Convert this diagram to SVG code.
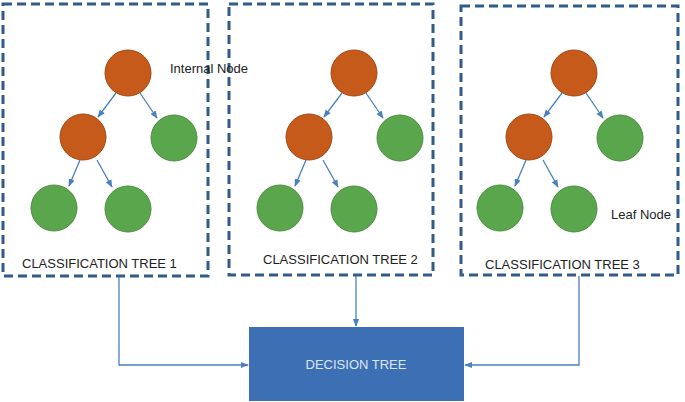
<svg xmlns="http://www.w3.org/2000/svg" width="685" height="402" viewBox="0 0 685 402">
<defs>
<style>
.box{fill:none;stroke:#2f5c8a;stroke-width:3;stroke-dasharray:9,5}
.in{fill:#c55a1b;stroke:#a04610;stroke-width:1}
.lf{fill:#5aa64c;stroke:#4a8c3e;stroke-width:1}
.e{stroke:#4a7fc0;stroke-width:1.3;fill:none;marker-end:url(#a)}
.c{stroke:#4a7fc0;stroke-width:1.3;fill:none;marker-end:url(#a)}
.t{font-family:"Liberation Sans",Arial,sans-serif;font-size:13px;fill:#222}
</style>
<marker id="a" viewBox="0 0 10 10" refX="9" refY="5" markerWidth="6" markerHeight="6" orient="auto"><path d="M0,1L10,5L0,9z" fill="#4a7fc0"/></marker>
<g id="tree"><line class="e" x1="116" y1="93" x2="98" y2="117"/><line class="e" x1="140" y1="93" x2="157" y2="118"/><line class="e" x1="80" y1="160" x2="69" y2="186"/><line class="e" x1="97" y1="160" x2="112" y2="187"/>
<circle class="in" cx="128" cy="73" r="23"/><circle class="in" cx="83" cy="137" r="23"/><circle class="lf" cx="174" cy="138" r="23"/><circle class="lf" cx="54" cy="208" r="23"/><circle class="lf" cx="128" cy="209" r="23"/></g>
</defs>
<g id="tree1"><rect class="box" x="3" y="4" width="205" height="272"/><use href="#tree"/><text class="t" x="22" y="268">CLASSIFICATION TREE 1</text></g>
<g id="tree2"><rect class="box" x="229" y="4" width="204" height="271"/><use href="#tree" x="226"/><text class="t" x="263" y="264">CLASSIFICATION TREE 2</text></g>
<g id="tree3"><rect class="box" x="461" y="6" width="217" height="269"/><use href="#tree" x="446"/><text class="t" x="485" y="269">CLASSIFICATION TREE 3</text></g>
<g id="labels"><text class="t" x="170" y="73" font-size="12">Internal Node</text><text class="t" x="611" y="219" font-size="12">Leaf Node</text></g>
<g id="decision"><rect x="249" y="327" width="215" height="74" fill="#3d6fb5"/><text class="t" x="356" y="369" fill="#dbe6f5" style="fill:#dbe6f5" text-anchor="middle">DECISION TREE</text></g>
<g id="connectors"><path class="c" d="M119,277V365H248"/><path class="c" d="M356,276V326"/><path class="c" d="M579,276V365H465"/></g>
</svg>
